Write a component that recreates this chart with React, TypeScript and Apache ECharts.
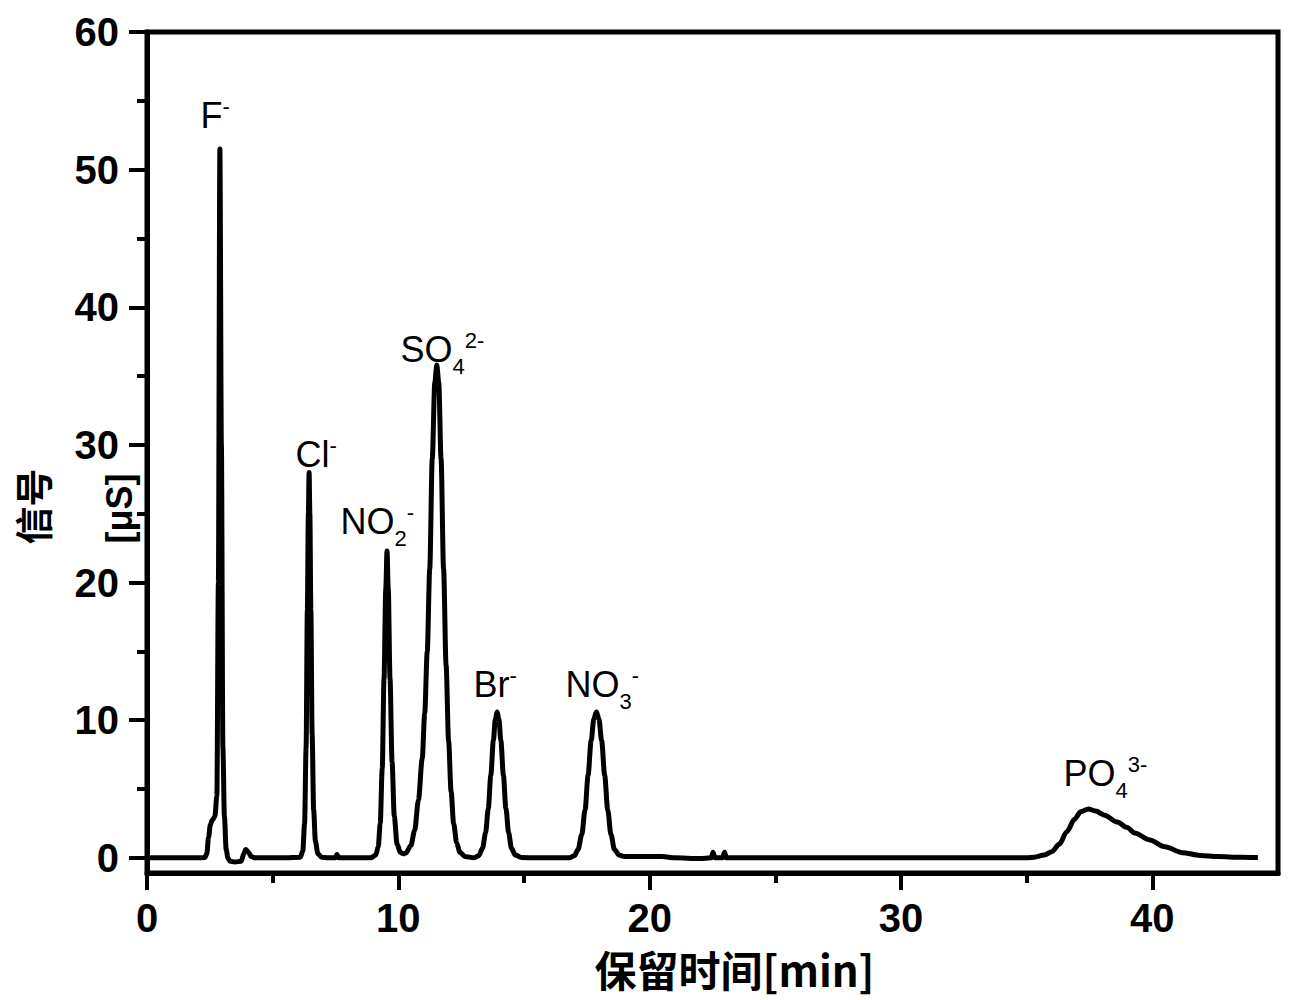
import React, { useEffect, useRef } from 'react'
import * as echarts from 'echarts'

// retention time [min], signal [μS]
const baselineStart = [[0, 0], [1.0, 0], [2.0, 0], [2.3, 0.02]]
const fluoridePeak = [
  [2.38, 0.3], [2.45, 1.5], [2.52, 2.4], [2.6, 2.75], [2.7, 3.0], [2.78, 4.5],
  [2.84, 20], [2.9, 51.5], [2.96, 30], [3.02, 8], [3.08, 3], [3.15, 0.6],
  [3.22, 0.0], [3.3, -0.25], [3.5, -0.3], [3.75, -0.25], [3.85, 0.3],
  [3.93, 0.6], [4.02, 0.45], [4.15, 0.1], [4.3, 0],
]
const chloridePeak = [
  [5.5, 0], [6.1, 0.05], [6.2, 0.5], [6.27, 2.5], [6.33, 8], [6.38, 18],
  [6.42, 25], [6.45, 28], [6.48, 25], [6.52, 18], [6.57, 9], [6.63, 3.5],
  [6.7, 1.2], [6.8, 0.3], [6.95, 0.05], [7.2, 0], [7.5, 0], [7.56, 0.25], [7.62, 0],
]
const nitritePeak = [
  [8.9, 0], [9.1, 0.2], [9.2, 0.8], [9.28, 2.5], [9.36, 6.5], [9.43, 13],
  [9.5, 19.5], [9.55, 22.3], [9.6, 19.5], [9.67, 13], [9.75, 7], [9.84, 3],
  [9.95, 1.0], [10.08, 0.4], [10.2, 0.3],
]
const sulfatePeak = [
  [10.3, 0.35], [10.5, 0.9], [10.65, 2], [10.8, 4.2], [10.95, 7.2], [11.05, 10.5],
  [11.15, 15], [11.25, 21], [11.35, 29], [11.45, 34.5], [11.53, 35.8], [11.61, 34.5],
  [11.7, 29], [11.8, 21], [11.9, 14], [12.0, 8.5], [12.1, 4.8], [12.2, 2.5],
  [12.32, 1.1], [12.45, 0.4], [12.65, 0.1], [13.0, 0],
]
const bromidePeak = [
  [13.2, 0.15], [13.35, 0.7], [13.47, 1.8], [13.58, 3.6], [13.68, 6], [13.78, 8.5],
  [13.86, 10.1], [13.93, 10.6], [14.0, 10.1], [14.08, 8.5], [14.18, 6], [14.28, 3.6],
  [14.39, 1.8], [14.5, 0.7], [14.65, 0.2], [14.9, 0.03], [15.5, 0],
]
const nitratePeak = [
  [16.8, 0], [17.0, 0.15], [17.15, 0.6], [17.3, 1.7], [17.43, 3.5], [17.55, 6],
  [17.67, 8.5], [17.78, 10.1], [17.88, 10.6], [17.98, 10.1], [18.09, 8.5], [18.21, 6],
  [18.33, 3.5], [18.46, 1.7], [18.6, 0.6], [18.78, 0.2], [19.0, 0.1],
]
const baselineMiddle = [
  [19.5, 0.1], [20.5, 0.1], [21.0, 0], [22.0, -0.05], [22.45, 0], [22.52, 0.4],
  [22.6, 0], [22.9, 0], [22.98, 0.4], [23.05, 0], [24, 0], [30, 0], [35, 0],
]
const phosphatePeak = [
  [35.3, 0.05], [35.7, 0.2], [36.0, 0.45], [36.3, 1.0], [36.6, 1.9], [36.9, 2.8],
  [37.15, 3.35], [37.45, 3.55], [37.75, 3.4], [38.1, 3.1], [38.6, 2.6], [39.0, 2.2],
  [39.3, 1.8], [39.9, 1.3], [40.5, 0.8], [41.2, 0.38], [41.9, 0.18], [42.6, 0.1],
  [43.5, 0.04], [44.2, 0.02],
]

// peak annotations: left edge of the formula, vertical centre, rich text
const labelX = [2.11, 5.89, 7.68, 10.07, 12.97, 16.63, 36.45]
const labelY = [53.9, 29.27, 24.47, 36.96, 12.56, 12.56, 6.1]
const labelText = [
  '{m|F}{sp|-}',
  '{m|Cl}{sp|-}',
  '{m|NO}{sb|2}{sp|-}',
  '{m|SO}{sb|4}{sp|2-}',
  '{m|Br}{sp|-}',
  '{m|NO}{sb|3}{sp|-}',
  '{m|PO}{sb|4}{sp|3-}',
]

const xMajorTicks = [0, 10, 20, 30, 40]
const xMinorTicks = [5, 15, 25, 35]
const yMajorTicks = [0, 10, 20, 30, 40, 50, 60]
const yMinorTicks = [5, 15, 25, 35, 45, 55]

const LATIN = '"Liberation Sans", Arial, sans-serif'
const CJK = '"Noto Sans CJK SC", sans-serif'

const App: React.FC = () => {
  const chartRef = useRef<HTMLDivElement>(null)

  useEffect(() => {
    if (!chartRef.current) return
    const chart = echarts.init(chartRef.current, null, { renderer: 'svg' })

    const trace = [
      ...baselineStart, ...fluoridePeak, ...chloridePeak, ...nitritePeak,
      ...sulfatePeak, ...bromidePeak, ...nitratePeak, ...baselineMiddle, ...phosphatePeak,
    ]

    const tickLabel = {
      fontSize: 40,
      lineHeight: 36,
      fontWeight: 'bold' as const,
      fontFamily: LATIN,
      color: '#000',
    }

    const option: echarts.EChartsOption = {
      animation: false,
      backgroundColor: '#fff',
      grid: {
        left: 147, right: 14, top: 32, bottom: 127,
        show: true, borderColor: '#000', borderWidth: 5, backgroundColor: 'transparent',
      },
      xAxis: [
        {
          type: 'value', min: 0, max: 45, position: 'bottom',
          name: '保留时间[min]', nameLocation: 'middle', nameGap: 75,
          nameTextStyle: {
            fontSize: 42, lineHeight: 40, fontWeight: 'bold', fontFamily: CJK, color: '#000',
            padding: [0, 0, 0, 44],
          },
          axisLine: { onZero: false, lineStyle: { color: '#000', width: 5 } },
          axisTick: { customValues: xMajorTicks, length: 17, lineStyle: { color: '#000', width: 4 } },
          axisLabel: { ...tickLabel, customValues: xMajorTicks, margin: 27 },
          splitLine: { show: false },
        },
        {
          type: 'value', min: 0, max: 45, position: 'bottom',
          axisLine: { show: false, onZero: false },
          axisTick: { customValues: xMinorTicks, length: 10, lineStyle: { color: '#000', width: 4 } },
          axisLabel: { show: false },
          splitLine: { show: false },
        },
      ],
      yAxis: [
        {
          type: 'value', min: -1.1, max: 60, position: 'left',
          name: '信号', nameLocation: 'middle', nameGap: 97, nameRotate: 90,
          nameTextStyle: { fontSize: 38, fontWeight: 'bold', fontFamily: CJK, color: '#000', padding: [0, 108, 0, 0] },
          axisLine: { onZero: false, lineStyle: { color: '#000', width: 5 } },
          axisTick: { customValues: yMajorTicks, length: 18, lineStyle: { color: '#000', width: 4 } },
          axisLabel: { ...tickLabel, customValues: yMajorTicks, margin: 28 },
          splitLine: { show: false },
        },
        {
          type: 'value', min: -1.1, max: 60, position: 'left',
          name: '[μS]', nameLocation: 'middle', nameGap: 10, nameRotate: 90,
          nameTextStyle: { fontSize: 36, fontWeight: 'bold', fontFamily: LATIN, color: '#000', padding: [0, 112, 0, 0] },
          axisLine: { show: false, onZero: false },
          axisTick: { customValues: yMinorTicks, length: 10, lineStyle: { color: '#000', width: 4 } },
          axisLabel: { show: false },
          splitLine: { show: false },
        },
      ],
      series: [
        {
          type: 'line',
          data: trace,
          symbol: 'none',
          smooth: 0.3,
          smoothMonotone: 'x',
          lineStyle: { color: '#000', width: 5 },
          z: 3,
        },
        {
          type: 'scatter',
          data: labelX.map((x, i) => ({ value: [x, labelY[i]], name: labelText[i] })),
          symbolSize: 1,
          itemStyle: { color: 'rgba(0,0,0,0)' },
          silent: true,
          z: 4,
          label: {
            show: true,
            position: 'right',
            distance: 0,
            color: '#000',
            opacity: 1,
            formatter: (p: any) => p.name,
            rich: {
              m: { fontSize: 36, lineHeight: 56, fontFamily: LATIN, color: '#000', verticalAlign: 'middle' },
              sb: { fontSize: 22, lineHeight: 20, fontFamily: LATIN, color: '#000', verticalAlign: 'bottom' },
              sp: {
                fontSize: 22, lineHeight: 26, fontFamily: LATIN, color: '#000',
                verticalAlign: 'top', padding: [8, 0, 0, 0],
              },
            },
          },
        },
      ],
    }

    chart.setOption(option)
    return () => chart.dispose()
  }, [])

  return (
    <div
      ref={chartRef}
      style={{ position: 'fixed', left: 0, top: 0, width: 1292, height: 1000, background: '#fff' }}
    />
  )
}

export default App
